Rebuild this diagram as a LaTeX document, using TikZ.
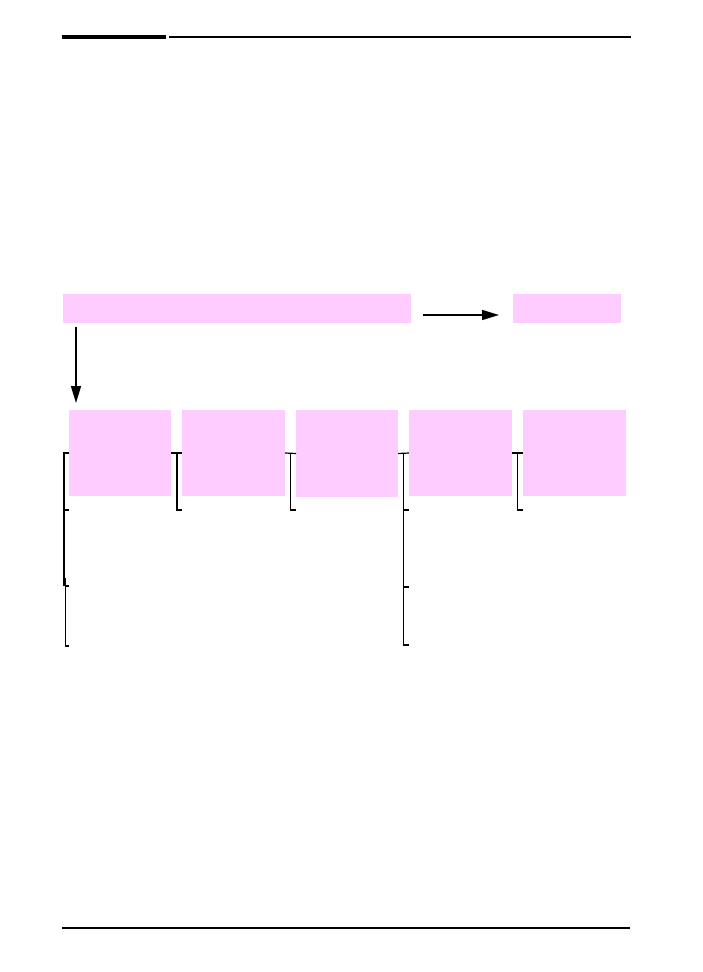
\documentclass[tikz,border=0pt]{standalone}
\usetikzlibrary{arrows.meta}
\definecolor{boxpink}{RGB}{255,204,255}
\tikzset{
  pinkbox/.style={
    rectangle,
    fill=boxpink,
    inner sep=0pt,
    outer sep=0pt,
    anchor=north west
  },
  flow/.style={
    line width=1.4pt,
    -{Triangle[length=17pt,width=10pt]}
  },
  brace/.style={line width=1.2pt},
  rule/.style={line width=2pt}
}

\begin{document}
\begin{tikzpicture}[x=1pt,y=-1pt]
  \useasboundingbox (0,0) rectangle (702,972);
  % Header and footer rules
  \fill (62,35) rectangle (166,39);
  \draw[rule] (169,37) -- (631,37);
  \draw[rule] (62,928) -- (630,928);
  % Top row
  \node[pinkbox, minimum width=348pt, minimum height=29pt] (bar) at (63,294) {};
  \node[pinkbox, minimum width=108pt, minimum height=29pt] (target) at (513,294) {};
  % Lower row
  \node[pinkbox, minimum width=102pt, minimum height=86pt] (b1) at (69,410) {};
  \node[pinkbox, minimum width=103pt, minimum height=86pt] (b2) at (182,410) {};
  \node[pinkbox, minimum width=102pt, minimum height=87pt] (b3) at (296,410) {};
  \node[pinkbox, minimum width=103pt, minimum height=86pt] (b4) at (409,410) {};
  \node[pinkbox, minimum width=103pt, minimum height=86pt] (b5) at (523,410) {};
  % Arrows
  \draw[flow, shorten <=12pt, shorten >=14pt] ([yshift=-6.5pt]bar.east) -- ([yshift=-6.5pt]target.west);
  \draw[flow, shorten <=4pt, shorten >=7pt] ([xshift=13pt]bar.south west) -- ([xshift=7pt]b1.north west);
  % Brackets
  \draw[brace] (b1.west) -- (64,453) -- (64,586);
  \draw[brace] (64,510) -- (69,510);
  \draw[brace] (65.5,578) -- (65.5,646) -- (69,646);
  \draw[brace] (65.5,586) -- (69,586);
  \draw[brace] (b1.east) -- (b2.west);
  \draw[brace] (177,453) |- (182,510);
  \draw[brace] (b2.east) -- (b3.west);
  \draw[brace] (290.5,453) |- (296,510);
  \draw[brace] (b3.east) -- (b4.west);
  \draw[brace] (403.5,453) |- (409,645);
  \draw[brace] (403.5,510) -- (409,510);
  \draw[brace] (403.5,587) -- (409,587);
  \draw[brace] (b4.east) -- (b5.west);
  \draw[brace] (517.5,453) |- (523,510);
\end{tikzpicture}
\end{document}
